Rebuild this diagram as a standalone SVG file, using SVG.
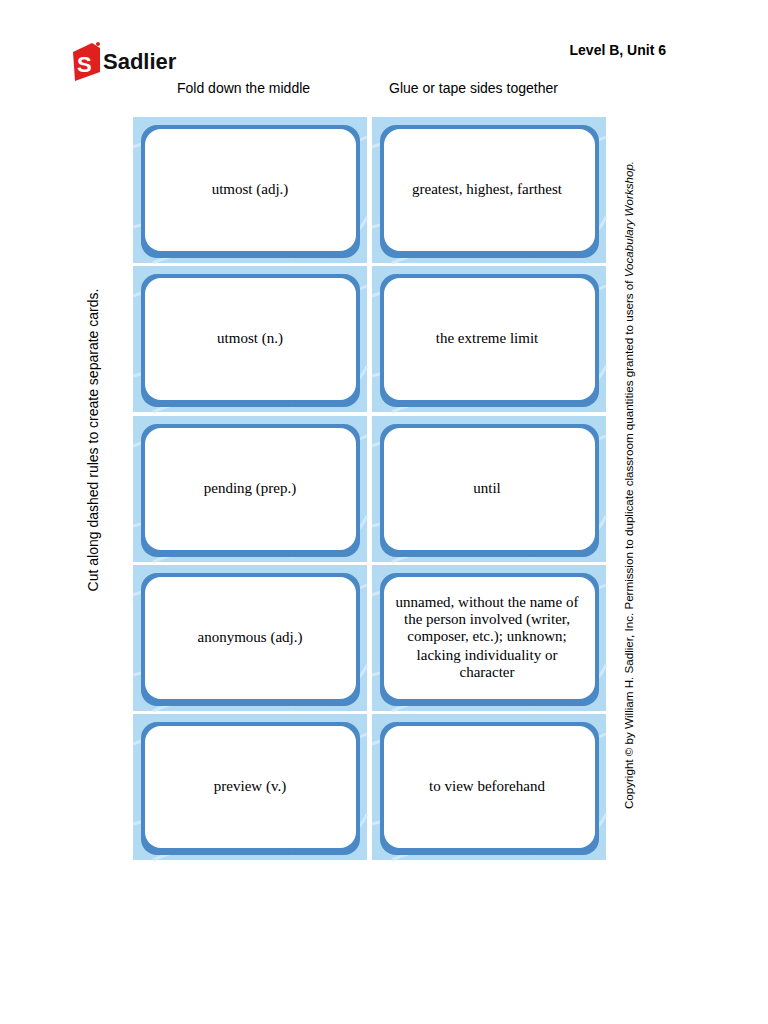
<svg xmlns="http://www.w3.org/2000/svg" width="768" height="1024" viewBox="0 0 768 1024">
<style>
.tile{fill:#b3daf3}
.wave{fill:none;stroke:#d4ecfa;stroke-width:3;opacity:.8}
.frame{fill:#4a89c6}
.inner{fill:#fff}
.t{font-family:"Liberation Serif",serif;font-size:15px;fill:#000;text-anchor:middle}
.h{font-family:"Liberation Sans",sans-serif;font-size:14px;fill:#000}
</style>
<defs>
<g id="card">
<rect class="tile" width="234" height="146"/>
<path class="wave" d="M0 30 Q60 5 120 25 T234 20 M0 110 Q70 90 140 120 T234 100 M20 146 Q80 120 160 140"/>
<rect class="frame" x="8" y="8" width="219" height="133" rx="16"/>
<rect class="inner" x="12" y="12" width="211" height="122" rx="16"/>
</g>
</defs>
<rect width="768" height="1024" fill="#fff"/>
<g id="logo">
<path d="M73 52 L92 43 L100 48 L100 72 L75 81 Z" fill="#e0201f"/>
<text x="77" y="72" font-family="Liberation Sans,sans-serif" font-weight="bold" font-size="22" fill="#fff">S</text>
<circle cx="98" cy="44" r="2" fill="#e0201f"/>
<text x="103" y="69" font-family="Liberation Sans,sans-serif" font-weight="bold" font-size="22" fill="#111">Sadlier</text>
</g>
<text x="666" y="55" class="h" font-weight="bold" text-anchor="end">Level B, Unit 6</text>
<text x="177" y="93" class="h">Fold down the middle</text>
<text x="389" y="93" class="h">Glue or tape sides together</text>
<text transform="translate(98,440) rotate(-90)" class="h" font-size="13" text-anchor="middle">Cut along dashed rules to create separate cards.</text>
<text transform="translate(633,485) rotate(-90) scale(0.83)" class="h" font-size="12.5" text-anchor="middle">Copyright © by William H. Sadlier, Inc. Permission to duplicate classroom quantities granted to users of <tspan font-style="italic">Vocabulary Workshop.</tspan></text>
<g id="r1l"><use href="#card" x="133" y="117"/><text class="t" x="250" y="194">utmost (adj.)</text></g>
<g id="r1r"><use href="#card" x="372" y="117"/><text class="t" x="487" y="194">greatest, highest, farthest</text></g>
<g id="r2l"><use href="#card" x="133" y="266"/><text class="t" x="250" y="343">utmost (n.)</text></g>
<g id="r2r"><use href="#card" x="372" y="266"/><text class="t" x="487" y="343">the extreme limit</text></g>
<g id="r3l"><use href="#card" x="133" y="416"/><text class="t" x="250" y="493">pending (prep.)</text></g>
<g id="r3r"><use href="#card" x="372" y="416"/><text class="t" x="487" y="493">until</text></g>
<g id="r4l"><use href="#card" x="133" y="565"/><text class="t" x="250" y="642">anonymous (adj.)</text></g>
<g id="r4r"><use href="#card" x="372" y="565"/><text class="t" x="487"><tspan x="487" y="607">unnamed, without the name of</tspan><tspan x="487" y="624">the person involved (writer,</tspan><tspan x="487" y="641">composer, etc.); unknown;</tspan><tspan x="487" y="660">lacking individuality or</tspan><tspan x="487" y="677">character</tspan></text></g>
<g id="r5l"><use href="#card" x="133" y="714"/><text class="t" x="250" y="791">preview (v.)</text></g>
<g id="r5r"><use href="#card" x="372" y="714"/><text class="t" x="487" y="791">to view beforehand</text></g>
<g id="connectors"/>
</svg>
